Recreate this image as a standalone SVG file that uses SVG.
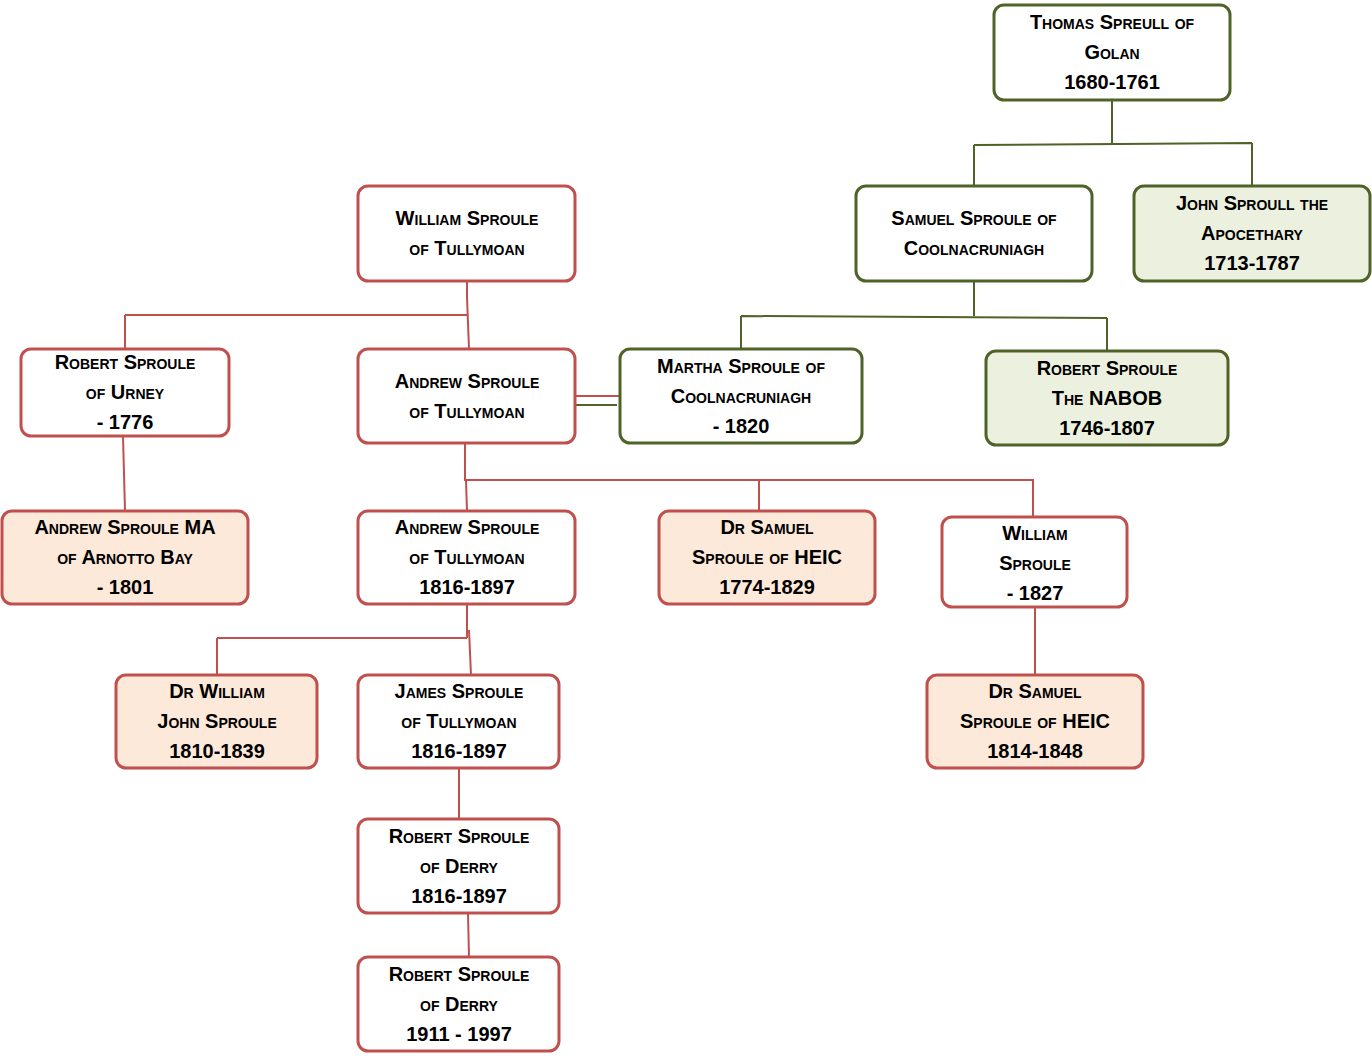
<svg xmlns="http://www.w3.org/2000/svg" width="1372" height="1064" viewBox="0 0 1372 1064">
<style>
.r{fill:#fff;stroke:#c0504d;stroke-width:3}
.rp{fill:#fde9d9;stroke:#c0504d;stroke-width:3}
.g{fill:#fff;stroke:#4f6228;stroke-width:3}
.gp{fill:#ebf1de;stroke:#4f6228;stroke-width:3}
text{font-family:"Liberation Sans",Arial,sans-serif;font-weight:bold;font-size:20px;text-anchor:middle;fill:#000}
.sc{font-variant:small-caps}
.cr{stroke:#c0504d;stroke-width:2;fill:none}
.cg{stroke:#4f6228;stroke-width:2;fill:none}
</style>
<g id="connectors">
<path class="cg" d="M1112,100V145M974,145L1252,143M974,145V186M1252,143V186M974,281V316M741,316L1107,318M741,316V349M1107,318V351M571,405H617"/>
<path class="cr" d="M467,281V297L469,349M125,315H467M125,315V349M123,436L125,511M465,443V480H1033V517M466,480L467,511M759,480V511M467,604V638M217,638H467M217,638V675M469,630L471,675M459,768V819M468,913L469,957M1035,607V675M575,396H620"/>
</g>
<g id="thomas"><rect class="g" x="994" y="5" width="236" height="95" rx="10"/><text x="1112" y="29" class="sc">Thomas Spreull of</text><text x="1112" y="59" class="sc">Golan</text><text x="1112" y="89">1680-1761</text></g>
<g id="samuel"><rect class="g" x="856" y="186" width="236" height="95" rx="10"/><text x="974" y="225" class="sc">Samuel Sproule of</text><text x="974" y="255" class="sc">Coolnacruniagh</text></g>
<g id="john"><rect class="gp" x="1134" y="186" width="236" height="95" rx="10"/><text x="1252" y="210" class="sc">John Sproull the</text><text x="1252" y="240" class="sc">Apocethary</text><text x="1252" y="270">1713-1787</text></g>
<g id="martha"><rect class="g" x="620" y="349" width="242" height="94" rx="10"/><text x="741" y="373" class="sc">Martha Sproule of</text><text x="741" y="403" class="sc">Coolnacruniagh</text><text x="741" y="433">- 1820</text></g>
<g id="nabob"><rect class="gp" x="986" y="351" width="242" height="94" rx="10"/><text x="1107" y="375" class="sc">Robert Sproule</text><text x="1107" y="405" class="sc">The NABOB</text><text x="1107" y="435">1746-1807</text></g>
<g id="william"><rect class="r" x="358" y="186" width="217" height="95" rx="10"/><text x="467" y="225" class="sc">William Sproule</text><text x="467" y="255" class="sc">of Tullymoan</text></g>
<g id="urney"><rect class="r" x="21" y="349" width="208" height="87" rx="10"/><text x="125" y="369" class="sc">Robert Sproule</text><text x="125" y="399" class="sc">of Urney</text><text x="125" y="429">- 1776</text></g>
<g id="andrew"><rect class="r" x="358" y="349" width="217" height="94" rx="10"/><text x="467" y="388" class="sc">Andrew Sproule</text><text x="467" y="418" class="sc">of Tullymoan</text></g>
<g id="andrewma"><rect class="rp" x="2" y="511" width="246" height="93" rx="10"/><text x="125" y="534" class="sc">Andrew Sproule MA</text><text x="125" y="564" class="sc">of Arnotto Bay</text><text x="125" y="594">- 1801</text></g>
<g id="andrew1816"><rect class="r" x="358" y="511" width="217" height="93" rx="10"/><text x="467" y="534" class="sc">Andrew Sproule</text><text x="467" y="564" class="sc">of Tullymoan</text><text x="467" y="594">1816-1897</text></g>
<g id="drsamuel"><rect class="rp" x="659" y="511" width="216" height="93" rx="10"/><text x="767" y="534" class="sc">Dr Samuel</text><text x="767" y="564" class="sc">Sproule of HEIC</text><text x="767" y="594">1774-1829</text></g>
<g id="william1827"><rect class="r" x="942" y="517" width="185" height="90" rx="10"/><text x="1035" y="540" class="sc">William</text><text x="1035" y="570" class="sc">Sproule</text><text x="1035" y="600">- 1827</text></g>
<g id="drwilliam"><rect class="rp" x="116" y="675" width="201" height="93" rx="10"/><text x="217" y="698" class="sc">Dr William</text><text x="217" y="728" class="sc">John Sproule</text><text x="217" y="758">1810-1839</text></g>
<g id="james"><rect class="r" x="358" y="675" width="201" height="93" rx="10"/><text x="459" y="698" class="sc">James Sproule</text><text x="459" y="728" class="sc">of Tullymoan</text><text x="459" y="758">1816-1897</text></g>
<g id="drsamuel1814"><rect class="rp" x="927" y="675" width="216" height="93" rx="10"/><text x="1035" y="698" class="sc">Dr Samuel</text><text x="1035" y="728" class="sc">Sproule of HEIC</text><text x="1035" y="758">1814-1848</text></g>
<g id="derry"><rect class="r" x="358" y="819" width="201" height="94" rx="10"/><text x="459" y="843" class="sc">Robert Sproule</text><text x="459" y="873" class="sc">of Derry</text><text x="459" y="903">1816-1897</text></g>
<g id="derry1911"><rect class="r" x="358" y="957" width="201" height="94" rx="10"/><text x="459" y="981" class="sc">Robert Sproule</text><text x="459" y="1011" class="sc">of Derry</text><text x="459" y="1041">1911 - 1997</text></g>
</svg>
